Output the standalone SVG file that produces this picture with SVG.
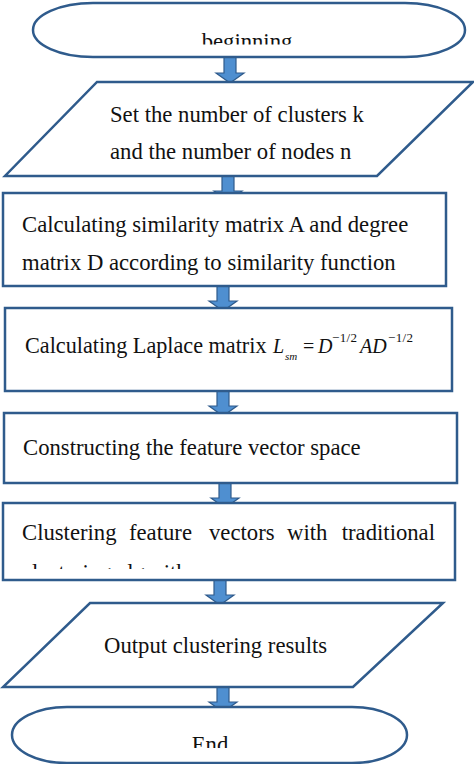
<svg xmlns="http://www.w3.org/2000/svg" width="474" height="764" viewBox="0 0 474 764">
<style>
.shape{fill:#fff;stroke:#2f5b8c;stroke-width:2.5}
.arrow{fill:#4f8fd0;stroke:#2f5b8c;stroke-width:1.2}
text{font-family:"Liberation Serif","Times New Roman",serif;font-size:22.7px;fill:#111}
.f{font-size:20px}
.it{font-style:italic;font-size:20px}
.sub{font-size:11px;font-style:italic}
.sup{font-size:13px}
</style>
<defs>
<clipPath id="clipBegin"><rect x="0" y="0" width="474" height="44.5"/></clipPath>
<clipPath id="clipAlgo"><rect x="0" y="0" width="474" height="569"/></clipPath>
<clipPath id="clipEnd"><rect x="0" y="0" width="474" height="748"/></clipPath>
<path id="arr" d="M-6,0 H6 V16 H14 L0,26 L-14,16 H-6 Z"/>
</defs>
<g id="connectors">
<use href="#arr" class="arrow" x="230" y="57"/>
<use href="#arr" class="arrow" x="228" y="175"/>
<use href="#arr" class="arrow" x="223" y="285"/>
<use href="#arr" class="arrow" x="223" y="390"/>
<use href="#arr" class="arrow" x="225" y="482"/>
<use href="#arr" class="arrow" x="220" y="579"/>
<use href="#arr" class="arrow" x="223" y="686"/>
</g>
<g id="begin">
<rect class="shape" x="33" y="3" width="432" height="54" rx="60" ry="27"/>
<text x="247" y="48.5" text-anchor="middle" clip-path="url(#clipBegin)">beginning</text>
</g>
<g id="setParams">
<polygon class="shape" points="97,82 473,82 377,176 5,176"/>
<text x="110" y="122">Set the number of clusters k</text>
<text x="110" y="159">and the number of nodes n</text>
</g>
<g id="similarity">
<rect class="shape" x="3" y="193" width="443" height="93"/>
<text x="22" y="232">Calculating similarity matrix A and degree</text>
<text x="22" y="270">matrix D according to similarity function</text>
</g>
<g id="laplace">
<rect class="shape" x="5" y="308" width="447" height="83"/>
<text x="25" y="353" style="font-size:22.2px">Calculating Laplace matrix</text>
<text x="273" y="353" class="it">L</text>
<text x="285" y="360" class="sub">sm</text>
<text x="303" y="353" class="f">=</text>
<text x="318" y="353" class="it">D</text>
<text x="332" y="342" class="sup" textLength="25">−1/2</text>
<text x="360" y="353" class="it">AD</text>
<text x="388" y="342" class="sup" textLength="25">−1/2</text>
</g>
<g id="feature">
<rect class="shape" x="4" y="413" width="453" height="70"/>
<text x="23" y="455">Constructing the feature vector space</text>
</g>
<g id="clustering">
<rect class="shape" x="3" y="503" width="452" height="77"/>
<text x="22" y="540">Clustering</text>
<text x="129" y="540">feature</text>
<text x="209" y="540">vectors</text>
<text x="287" y="540">with</text>
<text x="435" y="540" text-anchor="end">traditional</text>
<text x="22" y="580" clip-path="url(#clipAlgo)">clustering algorithm</text>
</g>
<g id="output">
<polygon class="shape" points="90,603 443,603 353,687 3,687"/>
<text x="104" y="653">Output clustering results</text>
</g>
<g id="end">
<rect class="shape" x="12" y="707" width="395" height="56" rx="55" ry="28"/>
<text x="210" y="752" text-anchor="middle" clip-path="url(#clipEnd)">End</text>
</g>
</svg>
